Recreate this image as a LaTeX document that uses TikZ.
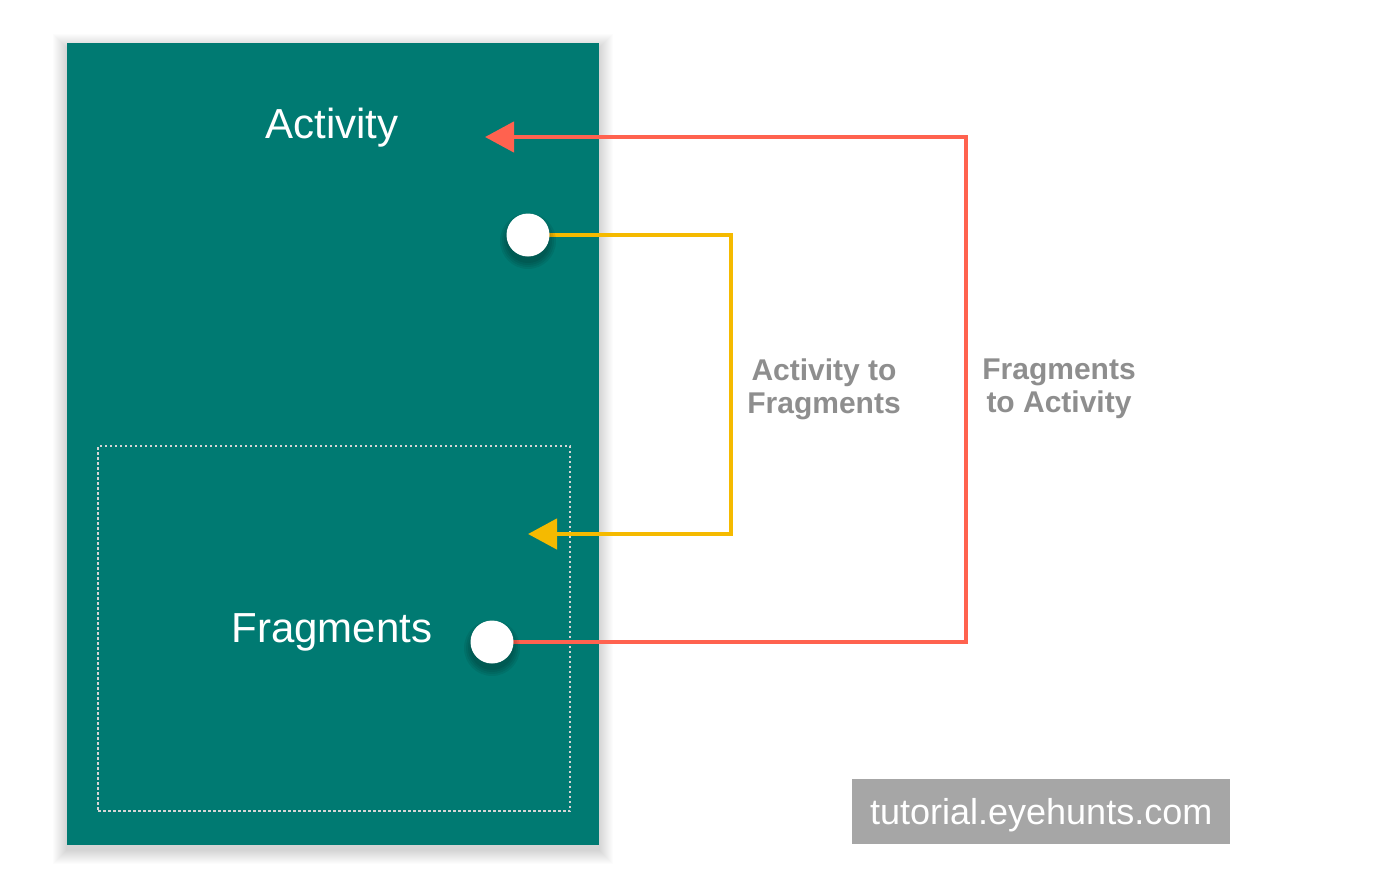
\documentclass[tikz,border=0pt]{standalone}
\usepackage{fontspec}
\setmainfont{Liberation Sans}
\usetikzlibrary{arrows.meta,calc}
\definecolor{teal1}{RGB}{0,122,114}
\definecolor{redl}{RGB}{255,98,79}
\definecolor{yell}{RGB}{245,186,0}
\definecolor{lblgray}{RGB}{142,142,142}
\definecolor{wmgray}{RGB}{166,166,166}
\definecolor{dotbox}{RGB}{214,214,214}
\tikzset{
  conn/.style={line width=4.6pt},
  tip/.style={-{Triangle[length=29pt,width=30pt]}},
  bigtext/.style={text=white,font=\fontsize{42}{50}\selectfont},
  lbl/.style={text=lblgray,font=\bfseries\fontsize{30}{33}\selectfont,align=center},
  knob/.style={circle,fill=white,minimum size=43pt,inner sep=0pt},
}
\begin{document}
\begin{tikzpicture}[x=1pt,y=-1pt]
\useasboundingbox (0,0) rectangle (1388,894);
% soft shadow of main panel
\foreach \i in {1,...,14}{
  \fill[black,opacity=0.011] ($(67,48)+(-\i,-\i)$) rectangle ($(599,850)+(\i,\i)$);
}
\node[draw=none,fill=teal1,minimum width=532pt,minimum height=802pt,inner sep=0pt,anchor=north west] (panel) at (67,43) {};
\node[draw=dotbox,line width=2.2pt,dash pattern=on 2.5pt off 2.5pt,minimum width=472pt,minimum height=365pt,inner sep=0pt,anchor=north west] (frag) at (97,445) {};
\node[bigtext] (act) at (332,128) {Activity};
\node[bigtext] (fragt) at (332,632) {Fragments};
% anchor points
\coordinate (adot) at (528,235);
\coordinate (fdot) at (492,642);
\coordinate (atip) at (485,137);
\coordinate (ftip) at (528,534);
% connectors
\draw[conn,redl,tip] (fdot) -| (966,137) -- (atip);
\draw[conn,yell,tip] (adot) -| (731,534) -- (ftip);
% knob shadows
\foreach \c in {adot,fdot}{
  \foreach \r in {22,24,26,28}{
    \fill[black,opacity=0.07] ($(\c)+(0,6)$) circle (\r pt);
  }
}
\node[knob] (adotn) at (adot) {};
\node[knob] (fdotn) at (fdot) {};
\node[lbl] (l1) at (824,389) {Activity to\\Fragments};
\node[lbl] (l2) at (1059,389) {Fragments\\to Activity};
\node[fill=wmgray,minimum width=378pt,minimum height=65pt,inner sep=0pt,anchor=north west] (wm) at (852,779) {};
\node[text=white,font=\fontsize{36}{40}\selectfont] (wmt) at ($(wm.center)+(0,3)$) {tutorial.eyehunts.com};
\end{tikzpicture}
\end{document}
